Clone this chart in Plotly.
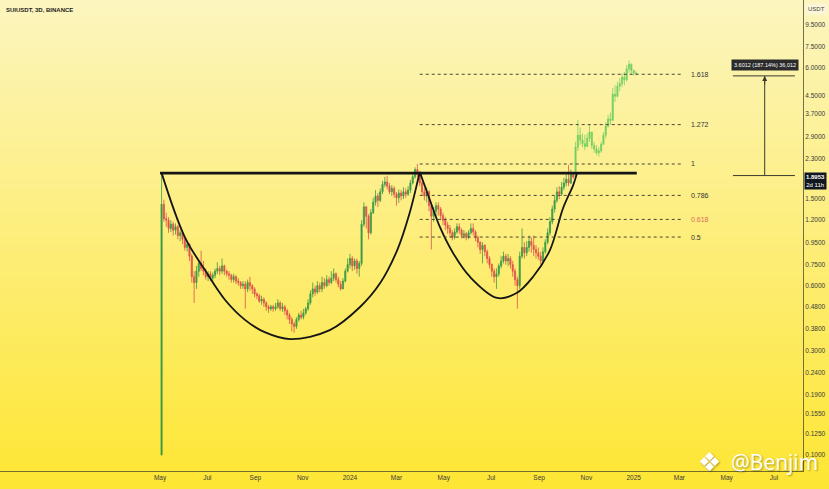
import math
import pandas as pd
import plotly.graph_objects as go

# SUIUSDT 3D candles (Binance)
start_date = "2023-05-03"

opens = [
    0.10, 1.42, 1.22, 1.20, 1.10, 1.15, 1.08, 1.12, 1.02, 1.05,
    0.98, 0.90, 0.93, 0.82, 0.66, 0.62, 0.70, 0.76, 0.72, 0.70,
    0.66, 0.68, 0.65, 0.67, 0.70, 0.72, 0.70, 0.74, 0.70, 0.68,
    0.67, 0.64, 0.66, 0.63, 0.62, 0.60, 0.61, 0.58, 0.62, 0.60,
    0.58, 0.55, 0.54, 0.51, 0.52, 0.50, 0.48, 0.47, 0.48, 0.47,
    0.48, 0.50, 0.47, 0.48, 0.46, 0.44, 0.42, 0.40, 0.39, 0.42,
    0.44, 0.43, 0.45, 0.47, 0.50, 0.55, 0.58, 0.56, 0.60, 0.58,
    0.62, 0.60, 0.64, 0.62, 0.65, 0.68, 0.64, 0.61, 0.58, 0.63,
    0.70, 0.75, 0.80, 0.74, 0.78, 0.72, 0.76, 1.15, 1.38, 1.25,
    1.05, 1.30, 1.45, 1.55, 1.48, 1.62, 1.75, 1.80, 1.72, 1.62,
    1.68, 1.58, 1.52, 1.60, 1.55, 1.62, 1.58, 1.65, 1.78, 1.90,
    2.05, 1.95, 1.78, 1.62, 1.55, 1.62, 1.40, 1.25, 1.32, 1.40,
    1.35, 1.26, 1.20, 1.14, 1.10, 1.05, 1.00, 1.06, 1.12, 1.08,
    1.02, 1.04, 1.00, 1.05, 1.10, 1.06, 1.00, 0.95, 0.88, 0.92,
    0.86, 0.80, 0.75, 0.70, 0.66, 0.68, 0.74, 0.78, 0.82, 0.78,
    0.80, 0.75, 0.70, 0.64, 0.60, 0.82, 0.90, 0.85, 0.90, 0.96,
    0.92, 0.88, 0.85, 0.82, 0.78, 0.86, 0.95, 1.05, 1.18, 1.35,
    1.48, 1.62, 1.58, 1.70, 1.78, 1.85, 1.78, 1.95,
]
highs = [
    1.98, 1.49, 1.30, 1.24, 1.20, 1.18, 1.16, 1.14, 1.08, 1.07,
    1.00, 0.96, 0.94, 0.84, 0.70, 0.74, 0.79, 0.87, 0.78, 0.72,
    0.70, 0.70, 0.69, 0.72, 0.77, 0.74, 0.80, 0.75, 0.71, 0.70,
    0.68, 0.68, 0.67, 0.65, 0.63, 0.63, 0.63, 0.64, 0.66, 0.61,
    0.59, 0.56, 0.55, 0.54, 0.53, 0.51, 0.49, 0.49, 0.49, 0.50,
    0.52, 0.51, 0.50, 0.49, 0.47, 0.45, 0.43, 0.41, 0.43, 0.45,
    0.46, 0.47, 0.48, 0.52, 0.57, 0.62, 0.60, 0.63, 0.62, 0.66,
    0.65, 0.67, 0.66, 0.70, 0.72, 0.69, 0.66, 0.63, 0.65, 0.72,
    0.80, 0.84, 0.82, 0.80, 0.80, 0.78, 1.20, 1.45, 1.40, 1.28,
    1.35, 1.52, 1.65, 1.60, 1.68, 1.82, 1.90, 1.92, 1.78, 1.74,
    1.72, 1.62, 1.66, 1.65, 1.70, 1.68, 1.72, 1.84, 1.98, 2.10,
    2.175, 2.00, 1.82, 1.68, 1.70, 1.65, 1.45, 1.38, 1.45, 1.45,
    1.38, 1.30, 1.24, 1.18, 1.14, 1.08, 1.10, 1.16, 1.16, 1.10,
    1.08, 1.06, 1.08, 1.16, 1.16, 1.08, 1.02, 0.96, 0.95, 0.93,
    0.88, 0.82, 0.76, 0.72, 0.72, 0.76, 0.82, 0.86, 0.84, 0.84,
    0.82, 0.78, 0.72, 0.66, 0.86, 1.10, 0.95, 0.96, 1.02, 1.00,
    1.02, 0.92, 0.90, 0.86, 0.90, 0.98, 1.10, 1.24, 1.40, 1.55,
    1.70, 1.72, 1.80, 1.88, 1.95, 2.15, 2.05, 2.00,
]
lows = [
    0.10, 1.18, 1.12, 1.05, 1.06, 1.02, 1.03, 0.98, 0.96, 0.93,
    0.87, 0.86, 0.78, 0.62, 0.50, 0.58, 0.66, 0.70, 0.67, 0.64,
    0.63, 0.63, 0.63, 0.65, 0.68, 0.67, 0.68, 0.67, 0.66, 0.64,
    0.62, 0.62, 0.61, 0.60, 0.58, 0.58, 0.47, 0.56, 0.57, 0.55,
    0.53, 0.52, 0.50, 0.49, 0.48, 0.46, 0.45, 0.46, 0.455, 0.46,
    0.47, 0.46, 0.455, 0.44, 0.42, 0.40, 0.37, 0.365, 0.38, 0.41,
    0.42, 0.42, 0.44, 0.46, 0.49, 0.53, 0.54, 0.55, 0.56, 0.56,
    0.58, 0.59, 0.60, 0.61, 0.63, 0.62, 0.59, 0.57, 0.58, 0.62,
    0.69, 0.72, 0.70, 0.71, 0.68, 0.66, 0.74, 1.12, 1.10, 0.98,
    1.03, 1.28, 1.40, 1.38, 1.45, 1.58, 1.70, 1.66, 1.58, 1.55,
    1.52, 1.40, 1.44, 1.48, 1.50, 1.52, 1.55, 1.60, 1.75, 1.86,
    1.90, 1.72, 1.56, 1.48, 1.45, 1.32, 0.88, 1.18, 1.25, 1.26,
    1.20, 1.14, 1.08, 1.04, 1.00, 0.97, 0.98, 1.04, 1.04, 0.99,
    0.99, 0.97, 0.98, 1.03, 1.02, 0.96, 0.90, 0.84, 0.76, 0.82,
    0.76, 0.72, 0.66, 0.62, 0.58, 0.66, 0.72, 0.76, 0.75, 0.74,
    0.72, 0.66, 0.60, 0.47, 0.58, 0.80, 0.80, 0.82, 0.86, 0.85,
    0.82, 0.80, 0.79, 0.75, 0.76, 0.84, 0.93, 1.02, 1.15, 1.30,
    1.44, 1.50, 1.55, 1.65, 1.72, 1.72, 1.76, 1.86,
]
closes = [
    1.42, 1.22, 1.20, 1.10, 1.15, 1.08, 1.12, 1.02, 1.05, 0.98,
    0.90, 0.93, 0.82, 0.66, 0.62, 0.70, 0.76, 0.72, 0.70, 0.66,
    0.68, 0.65, 0.67, 0.70, 0.72, 0.70, 0.74, 0.70, 0.68, 0.67,
    0.64, 0.66, 0.63, 0.62, 0.60, 0.61, 0.58, 0.62, 0.60, 0.58,
    0.55, 0.54, 0.51, 0.52, 0.50, 0.48, 0.47, 0.48, 0.47, 0.48,
    0.50, 0.47, 0.48, 0.46, 0.44, 0.42, 0.40, 0.39, 0.42, 0.44,
    0.43, 0.45, 0.47, 0.50, 0.55, 0.58, 0.56, 0.60, 0.58, 0.62,
    0.60, 0.64, 0.62, 0.65, 0.68, 0.64, 0.61, 0.58, 0.63, 0.70,
    0.75, 0.80, 0.74, 0.78, 0.72, 0.76, 1.15, 1.38, 1.25, 1.05,
    1.30, 1.45, 1.55, 1.48, 1.62, 1.75, 1.80, 1.72, 1.62, 1.68,
    1.58, 1.52, 1.60, 1.55, 1.62, 1.58, 1.65, 1.78, 1.90, 2.05,
    1.95, 1.78, 1.62, 1.55, 1.62, 1.40, 1.25, 1.32, 1.40, 1.35,
    1.26, 1.20, 1.14, 1.10, 1.05, 1.00, 1.06, 1.12, 1.08, 1.02,
    1.04, 1.00, 1.05, 1.10, 1.06, 1.00, 0.95, 0.88, 0.92, 0.86,
    0.80, 0.75, 0.70, 0.66, 0.68, 0.74, 0.78, 0.82, 0.78, 0.80,
    0.75, 0.70, 0.64, 0.60, 0.82, 0.90, 0.85, 0.90, 0.96, 0.92,
    0.88, 0.85, 0.82, 0.78, 0.86, 0.95, 1.05, 1.18, 1.35, 1.48,
    1.62, 1.58, 1.70, 1.78, 1.85, 1.78, 1.95, 1.8953,
]

# projected bars pattern (light green)
proj_opens = [1.90, 2.60, 2.95, 2.80, 2.70, 2.62, 2.85, 3.05, 2.65, 2.55,
              2.45, 2.50, 2.68, 2.95, 3.25, 3.50, 3.45, 4.55, 4.45, 4.95,
              5.10, 5.45, 5.30, 5.95, 6.25, 5.85, 5.70]
proj_highs = [2.75, 3.46, 3.20, 3.00, 2.96, 3.00, 3.30, 3.05, 2.75, 2.66,
              2.60, 2.75, 3.05, 3.39, 3.65, 3.75, 4.86, 5.00, 5.20, 5.40,
              5.70, 5.75, 6.20, 6.50, 6.30, 5.90, 5.80]
proj_lows = [1.94, 2.50, 2.66, 2.60, 2.52, 2.60, 2.75, 2.55, 2.45, 2.39,
             2.35, 2.45, 2.66, 2.86, 3.20, 3.29, 3.45, 4.20, 4.40, 4.70,
             4.90, 5.00, 5.20, 5.70, 5.60, 5.55, 5.55]
proj_closes = [2.60, 2.95, 2.80, 2.70, 2.62, 2.85, 3.05, 2.65, 2.55, 2.45,
               2.50, 2.68, 2.95, 3.25, 3.50, 3.45, 4.55, 4.45, 4.95, 5.10,
               5.45, 5.30, 5.95, 6.25, 5.85, 5.70, 5.65]

# drawn cup curves
cup1_dates = ["2023-05-03", "2023-06-02", "2023-06-28", "2023-07-24", "2023-08-19",
              "2023-09-13", "2023-10-16", "2023-12-06", "2024-01-14", "2024-02-09",
              "2024-03-02", "2024-03-18", "2024-03-31"]
cup1_prices = [1.98, 1.004, 0.708, 0.516, 0.417, 0.367, 0.341, 0.375, 0.479, 0.617,
               0.875, 1.295, 2.0]
cup2_dates = ["2024-03-31", "2024-04-13", "2024-04-26", "2024-05-13", "2024-06-04",
              "2024-07-09", "2024-08-03", "2024-08-24", "2024-09-15", "2024-10-02",
              "2024-10-15", "2024-10-20"]
cup2_prices = [2.0, 1.49, 1.117, 0.848, 0.658, 0.527, 0.555, 0.658, 0.875, 1.365,
               1.74, 1.98]

neck_dates = ["2023-05-01", "2025-01-05"]
neck_price = 1.975

fib_labels = ["1.618", "1.272", "1", "0.786", "0.618", "0.5"]
fib_prices = [5.62, 3.30, 2.175, 1.56, 1.21, 1.004]
fib_dates = ["2024-03-31", "2025-03-06"]
fib_label_date = "2025-03-14"

measure_dates = ["2025-05-09", "2025-07-28"]
measure_mid = "2025-06-19"
measure_base = 1.9243
measure_top = 5.5255
measure_text = "3.6012 (187.14%) 36,012"

last_price = 1.8953
last_countdown = "2d 11h"

y_ticks = [9.5, 7.5, 6.0, 4.5, 3.7, 2.9, 2.3, 1.5, 1.2, 0.95, 0.75, 0.6,
           0.48, 0.38, 0.3, 0.24, 0.19, 0.155, 0.125, 0.1]
x_tick_dates = ["2023-05-01", "2023-07-01", "2023-09-01", "2023-11-01", "2024-01-01",
                "2024-03-01", "2024-05-01", "2024-07-01", "2024-09-01", "2024-11-01",
                "2025-01-01", "2025-03-01", "2025-05-01", "2025-07-01"]
x_tick_text = ["May", "Jul", "Sep", "Nov", "2024", "Mar", "May", "Jul", "Sep", "Nov",
               "2025", "Mar", "May", "Jul"]

dates = pd.date_range(start_date, periods=len(closes), freq="3D")
proj_dates = pd.date_range(dates[-1] + pd.Timedelta(days=3), periods=len(proj_closes), freq="3D")

UP = "#3a9a48"
DOWN = "#e0524c"
PROJ = "rgba(110,205,95,0.9)"
INK = "#151515"

fig = go.Figure()

fig.add_trace(go.Candlestick(
    x=dates, open=opens, high=highs, low=lows, close=closes,
    increasing={"line": {"color": UP, "width": 0.8}, "fillcolor": UP},
    decreasing={"line": {"color": DOWN, "width": 0.8}, "fillcolor": DOWN},
    hoverinfo="skip",
))
fig.add_trace(go.Candlestick(
    x=proj_dates, open=proj_opens, high=proj_highs, low=proj_lows, close=proj_closes,
    increasing={"line": {"color": PROJ, "width": 0.8}, "fillcolor": PROJ},
    decreasing={"line": {"color": PROJ, "width": 0.8}, "fillcolor": PROJ},
    hoverinfo="skip",
))

# neckline
fig.add_trace(go.Scatter(
    x=neck_dates, y=[neck_price, neck_price], mode="lines",
    line={"color": INK, "width": 2.6}, hoverinfo="skip",
))

# cups
for cx, cy in [(cup1_dates, cup1_prices), (cup2_dates, cup2_prices)]:
    fig.add_trace(go.Scatter(
        x=cx, y=cy, mode="lines",
        line={"color": INK, "width": 1.8, "shape": "spline", "smoothing": 1.0},
        hoverinfo="skip",
    ))

# fib levels
for lab, p in zip(fib_labels, fib_prices):
    fig.add_trace(go.Scatter(
        x=fib_dates, y=[p, p], mode="lines",
        line={"color": "#4a4636", "width": 1, "dash": "3px,3px"},
        hoverinfo="skip",
    ))
    fig.add_annotation(
        x=fib_label_date, y=math.log10(p), xref="x", yref="y",
        text=lab, showarrow=False, xanchor="left", yanchor="middle",
        font={"size": 7, "color": "#e06a5a" if lab == "0.618" else "#333333"},
    )

# measurement
for p in [measure_base, measure_top]:
    fig.add_trace(go.Scatter(
        x=measure_dates, y=[p, p], mode="lines",
        line={"color": "#3a3a30", "width": 1}, hoverinfo="skip",
    ))
fig.add_trace(go.Scatter(
    x=[measure_mid, measure_mid], y=[measure_base, measure_top], mode="lines",
    line={"color": "#3a3a30", "width": 1}, hoverinfo="skip",
))
fig.add_annotation(
    x=measure_mid, y=math.log10(measure_top), xref="x", yref="y",
    text="", showarrow=True, arrowhead=2, arrowsize=1, arrowwidth=1,
    arrowcolor="#3a3a30", ax=0, ay=10,
)
fig.add_annotation(
    x=measure_mid, y=math.log10(measure_top), xref="x", yref="y",
    text=measure_text, showarrow=False, yanchor="bottom", yshift=5,
    font={"size": 5.5, "color": "#ffffff"}, bgcolor="#2b2b2b", borderpad=2,
)

# right scale labels
fig.add_annotation(
    x=1.0, y=1.0, xref="paper", yref="paper", xanchor="left", yanchor="top",
    xshift=2, yshift=-3, text="USDT", showarrow=False,
    font={"size": 6, "color": "#444444"}, bgcolor="#fbf6d8", borderpad=2,
)
fig.add_annotation(
    x=1.0, y=math.log10(last_price), xref="paper", yref="y", xanchor="left",
    yanchor="top", yshift=5, xshift=1,
    text=f"<b>{last_price:.4f}</b><br>{last_countdown}", showarrow=False,
    font={"size": 6, "color": "#ffffff"}, bgcolor="#131722", borderpad=1,
)

# header
fig.add_annotation(
    x=0.005, y=0.979, xref="paper", yref="paper", xanchor="left", yanchor="middle",
    text="<b>SUIUSDT, 3D, BINANCE</b>", showarrow=False,
    font={"size": 6, "color": "#1c1c1c", "family": "Liberation Sans Narrow, Arial Narrow, Liberation Sans"},
)

# watermark
fig.add_annotation(
    x=0.884, y=0.02, xref="paper", yref="paper", xanchor="center", yanchor="middle",
    text="❖", showarrow=False,
    font={"size": 26, "color": "#ffffff", "family": "DejaVu Sans", "shadow": "1px 1px 2px rgba(0,0,0,0.35)"},
)
fig.add_annotation(
    x=0.964, y=0.02, xref="paper", yref="paper", xanchor="center", yanchor="middle",
    text="@Benjim", showarrow=False,
    font={"size": 21, "color": "#ffffff", "family": "Open Sans", "shadow": "1px 1px 2px rgba(0,0,0,0.35)"},
)

# background gradient
top_rgb = (252, 245, 190)
bot_rgb = (254, 230, 52)
n_bands = 60
y_lo, y_hi = -0.04, 1.0
shapes = []
for k in range(n_bands):
    t = k / (n_bands - 1)
    col = tuple(round(bot_rgb[j] + (top_rgb[j] - bot_rgb[j]) * t) for j in range(3))
    y0 = y_lo + (y_hi - y_lo) * k / n_bands
    y1 = y_lo + (y_hi - y_lo) * (k + 1) / n_bands + 0.002
    shapes.append(dict(
        type="rect", xref="paper", yref="paper", x0=-0.01, x1=1.04, y0=y0, y1=y1,
        fillcolor=f"rgb{col}", line={"width": 0}, layer="below",
    ))

fig.update_layout(
    width=829,
    height=489,
    margin={"l": 0, "r": 26, "t": 0, "b": 18},
    paper_bgcolor="rgb(253,238,120)",
    plot_bgcolor="rgba(0,0,0,0)",
    showlegend=False,
    hovermode=False,
    shapes=shapes,
    font={"family": "Liberation Sans, Arial", "color": "#333333"},
)

fig.update_xaxes(
    type="date",
    range=["2022-10-06 14:00", "2025-08-07 10:00"],
    tickvals=x_tick_dates, ticktext=x_tick_text,
    tickfont={"size": 6.5, "color": "#3a3a3a"},
    showgrid=False, zeroline=False, ticks="",
    showline=True, linecolor="rgba(70,70,40,0.75)", linewidth=1,
    rangeslider={"visible": False}, fixedrange=True,
)
fig.update_yaxes(
    type="log", side="right",
    range=[-1.0734, 1.0911],
    tickvals=y_ticks, ticktext=[f"{v:.4f}" for v in y_ticks],
    tickfont={"size": 6.5, "color": "#3a3a3a"},
    showgrid=False, zeroline=False, ticks="",
    showline=True, linecolor="rgba(70,70,40,0.75)", linewidth=1,
    fixedrange=True,
)

fig.write_html(
    "out.html",
    config={"displayModeBar": False, "staticPlot": True},
    post_script="document.body.style.margin='0';document.body.style.overflow='hidden';",
)
